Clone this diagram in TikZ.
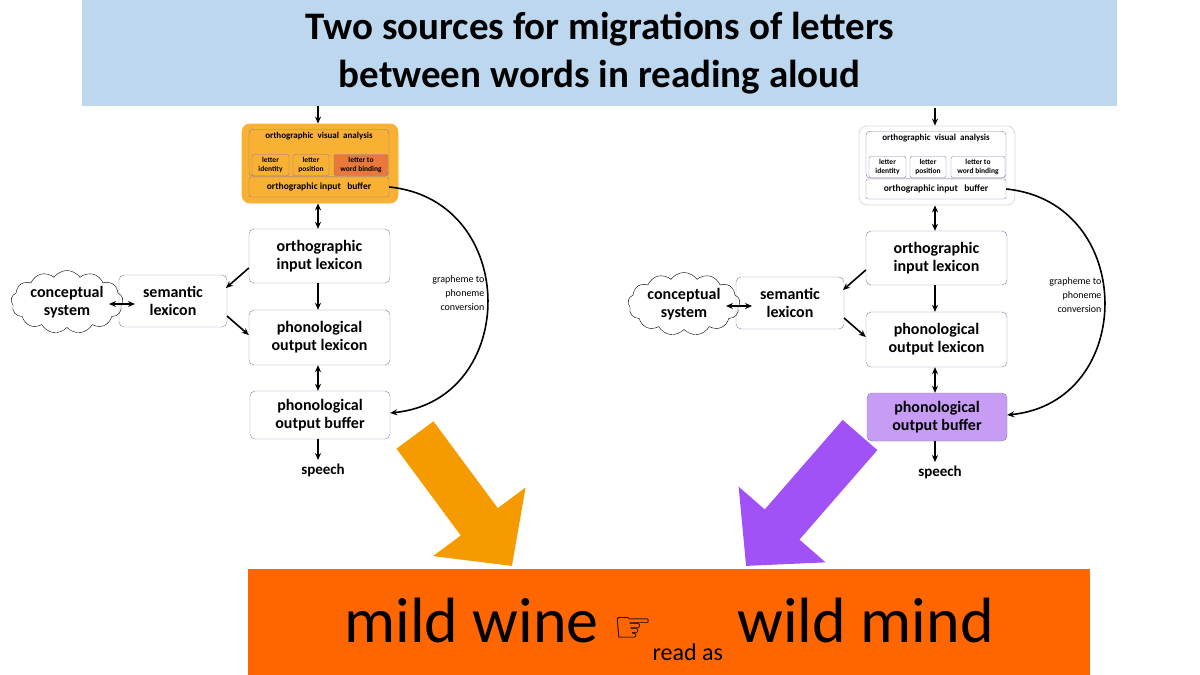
\documentclass[tikz,border=0pt]{standalone}
\usepackage{fontspec}
\setmainfont{Carlito}
\newfontfamily\symf{DejaVu Sans}
\usetikzlibrary{shapes.symbols,arrows.meta}
\definecolor{titlebg}{HTML}{BDD7EE}
\definecolor{hiorange}{HTML}{F8B133}
\definecolor{dkorange}{HTML}{E8793A}
\definecolor{bigorange}{HTML}{F59B00}
\definecolor{bigpurple}{HTML}{A152F7}
\definecolor{lightpurple}{HTML}{C79CF5}
\definecolor{botorange}{HTML}{FF6600}
\definecolor{boxline}{HTML}{8E7AA8}
\tikzset{
 bx/.style={draw=boxline, rounded corners=5pt, fill=white, font=\bfseries\fontsize{16}{18}\selectfont, align=center, inner sep=0pt},
 sm/.style={draw=#1, rounded corners=2pt, font=\bfseries\fontsize{7.5}{8.5}\selectfont, align=center, inner sep=0pt},
 ar/.style={-{Stealth[length=7pt,width=6pt]}, line width=1.6pt},
 dar/.style={{Stealth[length=7pt,width=6pt]}-{Stealth[length=7pt,width=6pt]}, line width=1.6pt},
}
\newcommand{\mydiag}[6]{% #1 outer fill, #2 outer draw, #3 inner fill, #4 binding fill, #5 POB fill, #6 inner draw
 \node[draw=#2, fill=#1, rounded corners=8pt, minimum width=156pt, minimum height=79pt, line width=0.8pt] (hl) at (320,163.5) {};
 \node[sm=#6, fill=#3, minimum width=140pt, minimum height=47pt, rounded corners=4pt, anchor=north, font=\bfseries\fontsize{9}{10}\selectfont, text depth=34pt] (ova) at (319,129) {orthographic\ \ visual\ \ analysis};
 \node[sm=#6, fill=#3, minimum width=37pt, minimum height=21pt] (li) at (270.5,165) {letter\\identity};
 \node[sm=#6, fill=#3, minimum width=36pt, minimum height=21pt] (lp) at (311,165) {letter\\position};
 \node[sm=#6, fill=#4, minimum width=54pt, minimum height=21pt] (lw) at (361,165) {letter to\\word binding};
 \node[sm=#6, fill=#3, minimum width=140pt, minimum height=20pt, font=\bfseries\fontsize{9.5}{10}\selectfont] (oib) at (319,187) {orthographic input\ \ \ buffer};
 \coordinate (top) at (318,106);
 \draw[ar] (top) -- (hl.north -| top);
 \node[bx, minimum width=141pt, minimum height=54pt] (oil) at (319.5,256) {orthographic\\input lexicon};
 \node[bx, minimum width=141pt, minimum height=55pt] (pol) at (319.5,337.5) {phonological\\output lexicon};
 \node[bx, fill=#5, minimum width=140pt, minimum height=48pt] (pob) at (320,415) {phonological\\output buffer};
 \node[bx, minimum width=108pt, minimum height=52pt] (sem) at (173,301) {semantic\\lexicon};
 \node[cloud, draw, cloud puffs=13, cloud puff arc=110, aspect=2, minimum width=112pt, minimum height=58pt, inner sep=0pt, align=center, font=\bfseries\fontsize{16}{18}\selectfont] (cs) at (67,302) {conceptual\\system};
 \node[font=\bfseries\fontsize{15}{16}\selectfont] (sp) at (323,470) {speech};
 \draw[dar] (hl.south -| top) -- (oil.north -| top);
 \draw[ar] (oil.south -| top) -- (pol.north -| top);
 \draw[dar] (pol.south -| top) -- (pob.north -| top);
 \draw[ar] (pob.south -| top) -- (sp.north -| top);
 \draw[dar] (109,304) -- (135,304);
 \draw[ar] (oil.west |- 0,268) -- (226,288);
 \draw[ar] (227,316) -- (pol.west |- 0,335);
 \draw[ar] (oib.east) .. controls (520,200) and (520,400) .. (pob.east |- 0,413);
 \node[align=right, anchor=east, font=\fontsize{10}{14}\selectfont] (gp) at (488,293) {grapheme to\\phoneme\\conversion};
}
\begin{document}
\begin{tikzpicture}[x=1pt,y=-1pt]
\useasboundingbox (0,0) rectangle (1200,675);
\node[fill=titlebg, minimum width=1035pt, minimum height=106pt, anchor=north west, inner sep=0pt, align=center, font=\bfseries\fontsize{39}{48}\selectfont] (title) at (82,0) {Two sources for migrations of letters\\between words in reading aloud};
\begin{scope}[name prefix=L-]
\mydiag{hiorange}{hiorange}{hiorange}{dkorange}{white}{boxline}
\end{scope}
\begin{scope}[name prefix=R-, shift={(617,2)}]
\mydiag{white}{black!15}{white}{white}{lightpurple}{boxline}
\end{scope}
\coordinate (oa) at (415,435); \coordinate (ob) at (512,566);
\draw[bigorange, line width=46pt, -{Triangle[length=55pt,width=112pt]}] (oa) -- (ob);
\coordinate (pa) at (860,435); \coordinate (pb) at (746,566);
\draw[bigpurple, line width=46pt, -{Triangle[length=55pt,width=112pt]}] (pa) -- (pb);
\node[fill=botorange, minimum width=842pt, minimum height=106pt, anchor=north west, inner sep=0pt] (bot) at (248,569) {};
\node[font=\fontsize{64}{70}\selectfont, anchor=base] (txt) at (669,642) {mild wine {\symf\fontsize{44}{50}\selectfont ☞}\raisebox{-18pt}{\fontsize{24}{26}\selectfont read as} wild mind};
\end{tikzpicture}
\end{document}
